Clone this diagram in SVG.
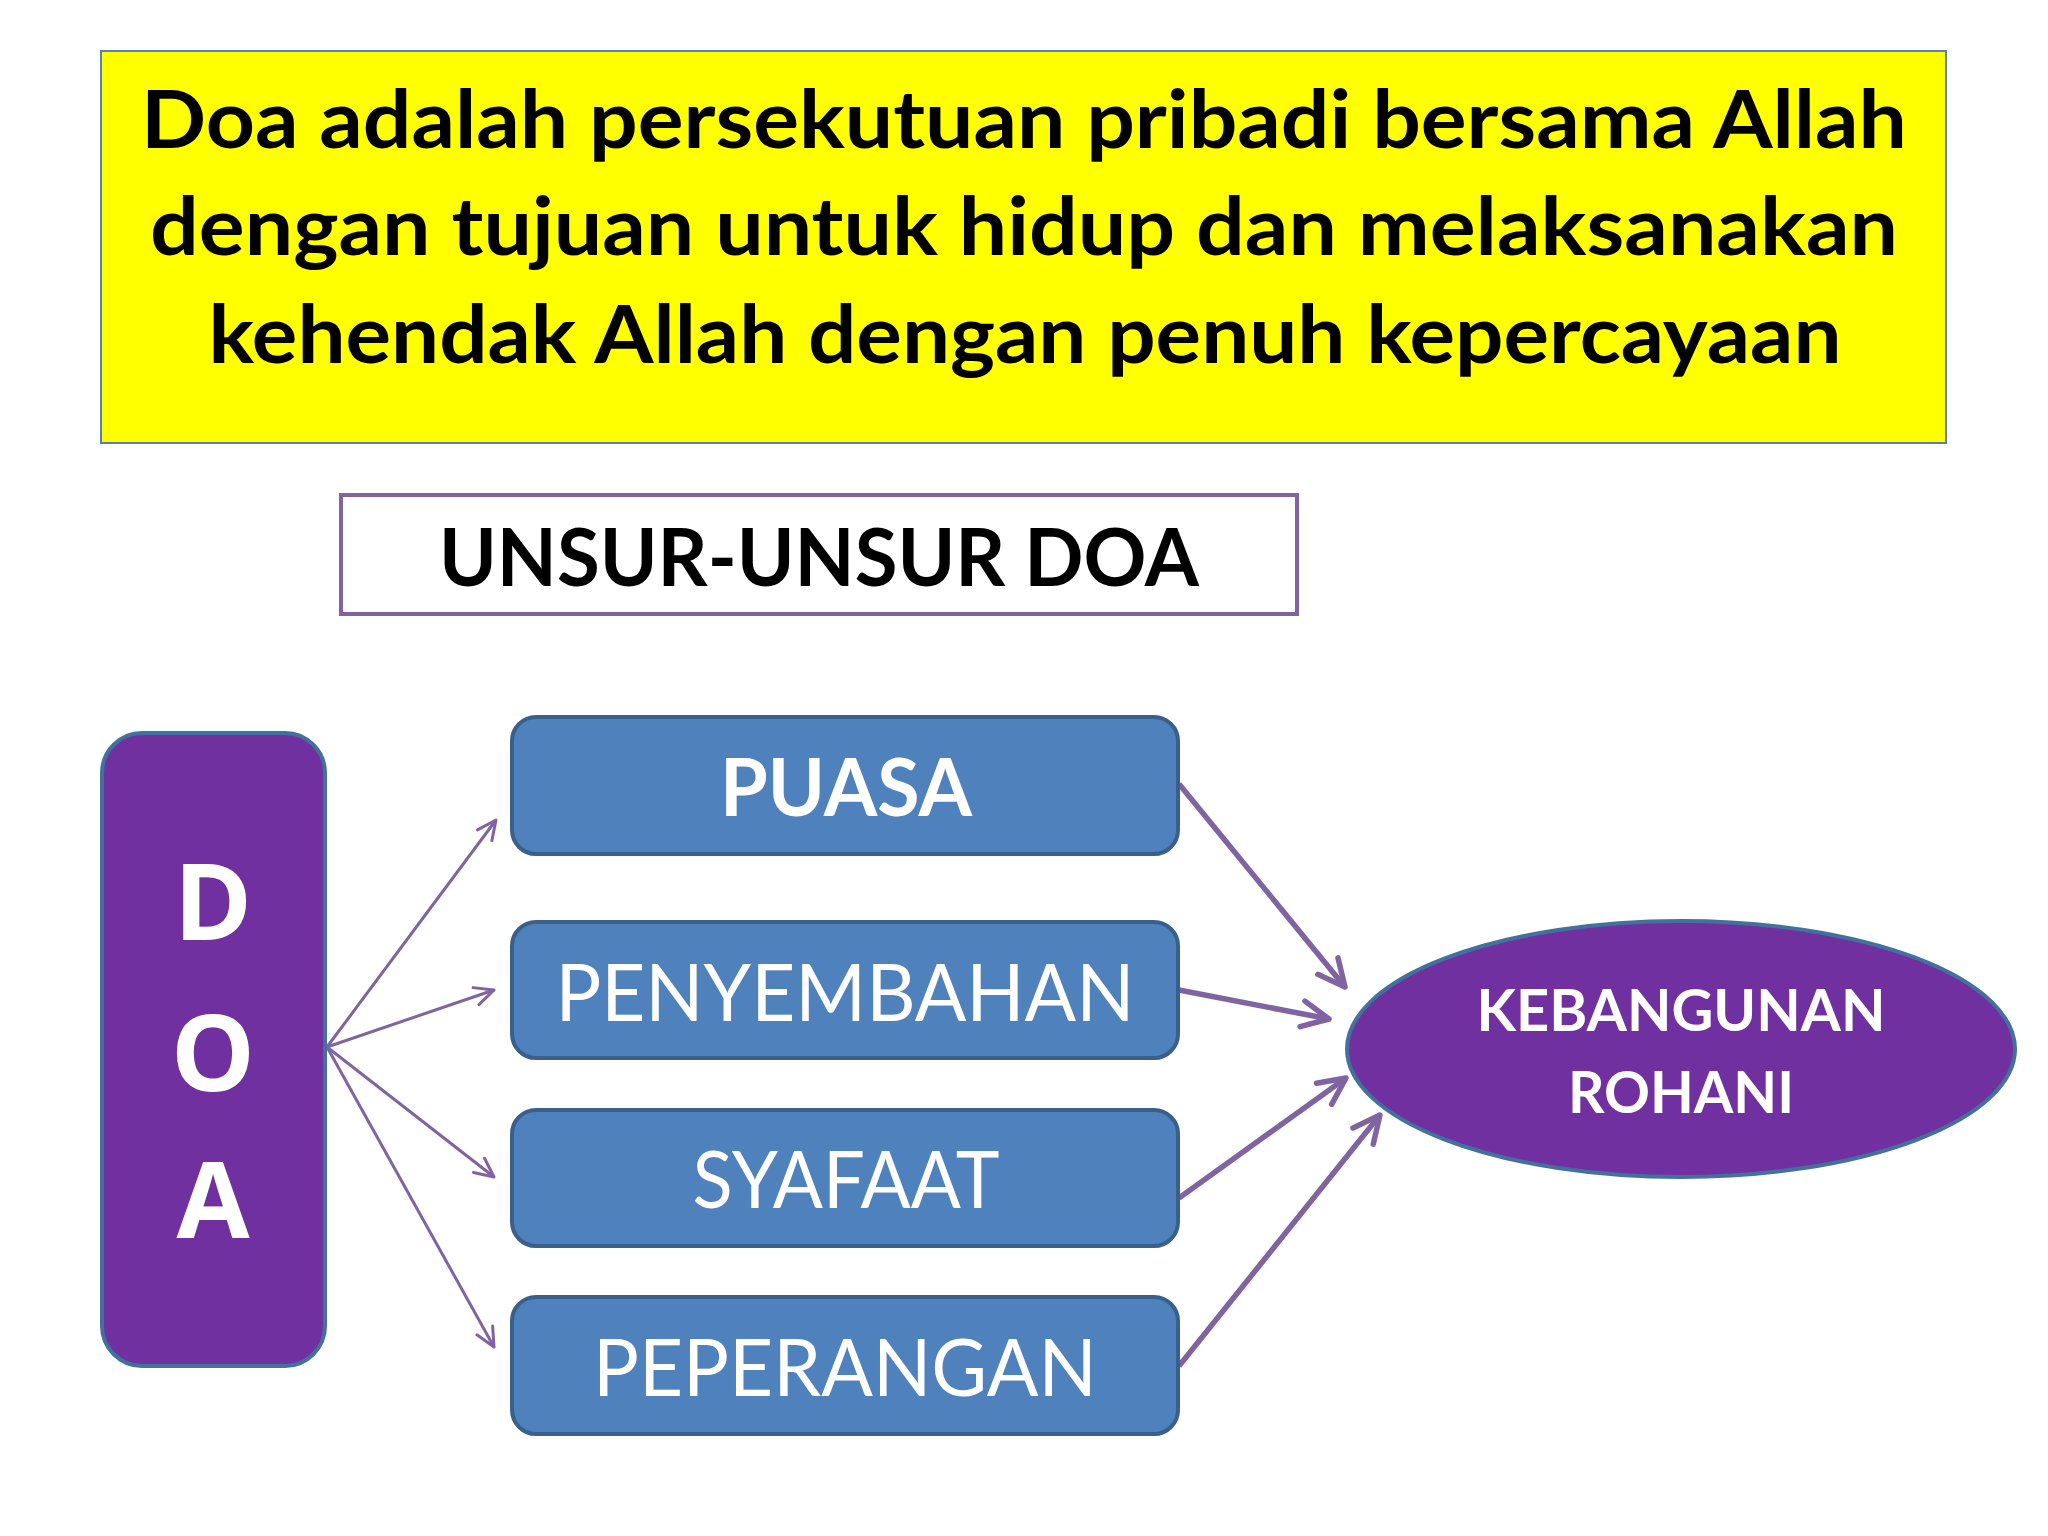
<svg xmlns="http://www.w3.org/2000/svg" width="2048" height="1536" viewBox="0 0 2048 1536">
  <defs>
    <style>
      .title { font-family: Lato, "Open Sans", "Liberation Sans", sans-serif; font-weight: 700; font-size: 80px; fill: #000; }
      .box { fill: #4F81BD; stroke: #3A5F8B; stroke-width: 4; }
      .purple { fill: #7030A0; stroke: #41719C; stroke-width: 4; }
      .boxtxt { font-family: Lato, "Open Sans", "Liberation Sans", sans-serif; font-size: 80px; fill: #fff; text-anchor: middle; }
      .ell { font-size: 57px; font-weight: 700; }
      .conn-thin { stroke: #8064A2; stroke-width: 3; fill: none; }
      .conn-thick { stroke: #8064A2; stroke-width: 5.5; fill: none; }
    </style>
    <marker id="headThin" markerUnits="userSpaceOnUse" viewBox="0 0 24 24" refX="22" refY="12" markerWidth="24" markerHeight="24" orient="auto">
      <path d="M3,3 L22,12 L3,21" fill="none" stroke="#8064A2" stroke-width="3" stroke-linecap="round" stroke-linejoin="round"/>
    </marker>
    <marker id="headThick" markerUnits="userSpaceOnUse" viewBox="0 0 34 34" refX="31" refY="17" markerWidth="34" markerHeight="34" orient="auto">
      <path d="M4,4 L31,17 L4,30" fill="none" stroke="#8064A2" stroke-width="5.5" stroke-linecap="round" stroke-linejoin="round"/>
    </marker>
  </defs>

  <rect x="0" y="0" width="2048" height="1536" fill="#FFFFFF"/>

  <g id="definition">
    <rect x="101" y="51" width="1845" height="392" fill="#FFFF00" stroke="#5B7FB5" stroke-width="2"/>
    <text class="title" x="1024" y="148" text-anchor="middle" textLength="1766" lengthAdjust="spacingAndGlyphs">Doa adalah persekutuan pribadi bersama Allah</text>
    <text class="title" x="1024" y="255" text-anchor="middle" textLength="1748" lengthAdjust="spacingAndGlyphs">dengan tujuan untuk hidup dan melaksanakan</text>
    <text class="title" x="1025" y="363" text-anchor="middle" textLength="1633" lengthAdjust="spacingAndGlyphs">kehendak Allah dengan penuh kepercayaan</text>
  </g>

  <g id="unsur-title">
    <rect x="341" y="495" width="956" height="119" fill="#FFFFFF" stroke="#8064A2" stroke-width="4"/>
    <text class="title" x="819" y="586" text-anchor="middle" textLength="760" lengthAdjust="spacingAndGlyphs">UNSUR-UNSUR DOA</text>
  </g>

  <g id="connectors">
    <line class="conn-thin" x1="327" y1="1047" x2="496" y2="820" marker-end="url(#headThin)"/>
    <line class="conn-thin" x1="327" y1="1047" x2="494" y2="990" marker-end="url(#headThin)"/>
    <line class="conn-thin" x1="327" y1="1047" x2="494" y2="1177" marker-end="url(#headThin)"/>
    <line class="conn-thin" x1="327" y1="1047" x2="494" y2="1347" marker-end="url(#headThin)"/>
    <line class="conn-thick" x1="1179" y1="784" x2="1345" y2="987" marker-end="url(#headThick)"/>
    <line class="conn-thick" x1="1179" y1="990" x2="1329" y2="1019" marker-end="url(#headThick)"/>
    <line class="conn-thick" x1="1179" y1="1198" x2="1346" y2="1078" marker-end="url(#headThick)"/>
    <line class="conn-thick" x1="1179" y1="1366" x2="1380" y2="1115" marker-end="url(#headThick)"/>
  </g>

  <g id="doa">
    <rect class="purple" x="102" y="733" width="223" height="633" rx="40" ry="40"/>
    <text x="213" y="940" text-anchor="middle" font-family="'Open Sans', 'DejaVu Sans', sans-serif" font-weight="700" font-size="106" fill="#FFFFFF">D</text>
    <text x="213" y="1091" text-anchor="middle" font-family="'Open Sans', 'DejaVu Sans', sans-serif" font-weight="700" font-size="106" fill="#FFFFFF">O</text>
    <text x="213" y="1238" text-anchor="middle" font-family="'Open Sans', 'DejaVu Sans', sans-serif" font-weight="700" font-size="106" fill="#FFFFFF">A</text>
  </g>

  <g id="puasa">
    <rect class="box" x="512" y="717" width="666" height="137" rx="24" ry="24"/>
    <text class="boxtxt" x="846" y="816" font-weight="700" textLength="252" lengthAdjust="spacingAndGlyphs">PUASA</text>
  </g>

  <g id="penyembahan">
    <rect class="box" x="512" y="922" width="666" height="136" rx="24" ry="24"/>
    <text class="boxtxt" x="845" y="1021" textLength="579" lengthAdjust="spacingAndGlyphs">PENYEMBAHAN</text>
  </g>

  <g id="syafaat">
    <rect class="box" x="512" y="1110" width="666" height="136" rx="24" ry="24"/>
    <text class="boxtxt" x="846" y="1208" textLength="307" lengthAdjust="spacingAndGlyphs">SYAFAAT</text>
  </g>

  <g id="peperangan">
    <rect class="box" x="512" y="1297" width="666" height="137" rx="24" ry="24"/>
    <text class="boxtxt" x="845" y="1396" textLength="504" lengthAdjust="spacingAndGlyphs">PEPERANGAN</text>
  </g>

  <g id="kebangunan-rohani">
    <ellipse class="purple" cx="1681" cy="1049" rx="334" ry="128"/>
    <text class="boxtxt ell" x="1681" y="1031" textLength="409" lengthAdjust="spacingAndGlyphs">KEBANGUNAN</text>
    <text class="boxtxt ell" x="1681" y="1113" textLength="226" lengthAdjust="spacingAndGlyphs">ROHANI</text>
  </g>
</svg>
